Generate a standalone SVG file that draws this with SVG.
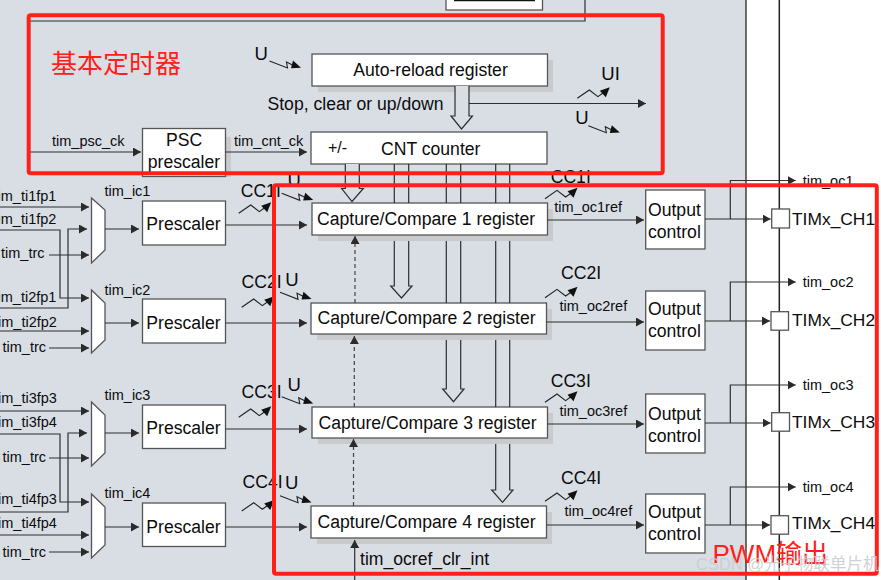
<svg xmlns="http://www.w3.org/2000/svg" width="881" height="580" viewBox="0 0 881 580">
<style>
text{font-family:"Liberation Sans",Arial,sans-serif;fill:#0c0c0c}
.s{font-size:14.5px}
.m{font-size:17.6px}
.u{font-size:18.5px}
.mid{text-anchor:middle}
.box{fill:#fff;stroke:#555;stroke-width:1.3}
.sh{fill:#c8cacd}
.mux{fill:#fff;stroke:#555;stroke-width:1.3}
.ln{fill:none;stroke:#2e2e2e;stroke-width:1.2}
.ar{fill:none;stroke:#2e2e2e;stroke-width:1.2;marker-end:url(#tip)}
.da{fill:none;stroke:#444;stroke-width:1.2;stroke-dasharray:4 3;marker-end:url(#tip)}
.bus{fill:#d9dee5;stroke:#2e2e2e;stroke-width:1.2}
.z{fill:none;stroke:#222;stroke-width:1.1}
.zh{fill:#111}
.red{fill:none;stroke:#ff2019;stroke-width:4}
.rt{fill:#ff2019}
</style>
<defs>
<marker id="tip" markerUnits="userSpaceOnUse" markerWidth="9" markerHeight="10" refX="8" refY="4.5" orient="auto"><path d="M0,0L8,4.5L0,9Z" fill="#2a2a2a"/></marker>
<g id="zapU"><path class="z" d="M0,0L12,-8.3L20.6,-1.700L26,-5.500"/><path class="zh" d="M22.500,-7.500L32.500,-11L28.500,-1Z"/></g>
<g id="zapD"><path class="z" d="M0,0L18,7L17,1L24,4.500"/><path class="zh" d="M23.500,-0.500L31.500,6.800L21.500,7.200Z"/></g>
</defs>
<rect width="881" height="580" fill="#fff"/>
<rect id="panel" width="746" height="580" fill="#d9dee5"/>
<g id="frame">
<path class="ln" d="M30,21H585V0"/>
<path d="M746,0V580" fill="none" stroke="#222" stroke-width="1.3"/>
<path d="M779.3,0V580" fill="none" stroke="#222" stroke-width="1.5"/>
</g>
<g id="top-block"><rect class="box" x="446" y="-6" width="96.500" height="16"/><path d="M454,0.500H535" stroke="#111" stroke-width="1.500"/></g>

<g id="auto-reload"><rect class="sh" x="318" y="60" width="235" height="32"/><rect class="box" x="312" y="54" width="235.500" height="32"/><text class="m mid" x="430.500" y="76">Auto-reload register</text></g>
<g id="cnt"><rect class="box" x="311" y="132" width="236" height="32"/><text class="m" x="328" y="153" style="font-size:16px">+/-</text><text class="m" x="381" y="155">CNT counter</text></g>
<g id="psc"><rect class="sh" x="148" y="137" width="83" height="40"/><rect class="box" x="142.500" y="128.500" width="83" height="48"/><text class="m mid" x="184" y="146">PSC</text><text class="m mid" x="184" y="168">prescaler</text></g>

<g id="mux1"><path class="mux" d="M91.500,198L105,210V250L91.500,263Z"/></g>
<g id="mux2"><path class="mux" d="M91.500,290L105,303V340L91.500,353Z"/></g>
<g id="mux3"><path class="mux" d="M91.500,402L105,415V453L91.500,466Z"/></g>
<g id="mux4"><path class="mux" d="M91.500,494L105,507V545L91.500,558Z"/></g>

<g id="prescaler1"><rect class="box" x="142.500" y="201" width="83" height="44"/><text class="m mid" x="183.500" y="230">Prescaler</text></g>
<g id="prescaler2"><rect class="box" x="142.500" y="299" width="83" height="44"/><text class="m mid" x="183.500" y="329">Prescaler</text></g>
<g id="prescaler3"><rect class="box" x="142.500" y="405" width="83" height="43.500"/><text class="m mid" x="183.500" y="434">Prescaler</text></g>
<g id="prescaler4"><rect class="box" x="142.500" y="503" width="83" height="43.500"/><text class="m mid" x="183.500" y="533">Prescaler</text></g>

<g id="cc1"><rect class="sh" x="318" y="209" width="235" height="32"/><rect class="box" x="312" y="203" width="235.500" height="32"/><text class="m" x="317" y="225">Capture/Compare 1 register</text></g>
<g id="cc2"><rect class="sh" x="317" y="309" width="235" height="31"/><rect class="box" x="311" y="303" width="235.500" height="31"/><text class="m" x="317.500" y="324">Capture/Compare 2 register</text></g>
<g id="cc3"><rect class="sh" x="318" y="413" width="235" height="31"/><rect class="box" x="312" y="407" width="235.500" height="31"/><text class="m" x="318.500" y="429">Capture/Compare 3 register</text></g>
<g id="cc4"><rect class="sh" x="317" y="512" width="235" height="32"/><rect class="box" x="311" y="506" width="235.500" height="32"/><text class="m" x="317.500" y="528">Capture/Compare 4 register</text></g>

<g id="out1"><rect class="box" x="645.700" y="190" width="59.300" height="59"/><text class="m" x="648" y="216">Output</text><text class="m" x="648" y="238">control</text></g>
<g id="out2"><rect class="box" x="645.700" y="291" width="59.300" height="59"/><text class="m" x="648" y="315">Output</text><text class="m" x="648" y="337">control</text></g>
<g id="out3"><rect class="box" x="645.700" y="394" width="59.300" height="59"/><text class="m" x="648" y="420">Output</text><text class="m" x="648" y="442">control</text></g>
<g id="out4"><rect class="box" x="645.700" y="494" width="59.300" height="59"/><text class="m" x="648" y="518">Output</text><text class="m" x="648" y="540">control</text></g>

<g id="connectors">
<path class="ar" d="M30,152H141"/>
<path class="ar" d="M225.500,152H307"/>
<path class="bus" d="M455,86V116H451L461.500,129L472.500,116H469V86"/>
<path class="ar" d="M469,103.500H646"/>
<path class="bus" d="M345.300,164V188.500H341.700L352,201.500L363.300,188.500H359.300V164"/>
<path class="ln" d="M394.300,164V203M408.700,164V203M446.300,164V203M460.700,164V203M495.700,164V203M509.700,164V203"/>
<path class="bus" d="M394.300,241V286H390.700L401.500,298L412,286H408.700V241"/>
<path class="ln" d="M446.300,241V303M460.700,241V303M495.700,241V303M509.700,241V303"/>
<path class="bus" d="M446.300,340V389H442.700L453.500,401.700L464,389H460.700V340"/>
<path class="ln" d="M495.700,340V407M509.700,340V407"/>
<path class="bus" d="M495.700,444V490H491.700L502.500,502.300L513,490H509.700V444"/>
<path class="ar" d="M0,207H89"/>
<path class="ar" d="M0,308H68V229H87"/>
<path class="ar" d="M0,230H60V298H89"/>
<path class="ar" d="M49,255H89"/>
<path class="ar" d="M0,331H89"/>
<path class="ar" d="M49,348H89"/>
<path class="ar" d="M0,411H89"/>
<path class="ar" d="M0,512H68V433H87"/>
<path class="ar" d="M0,434H60V502H89"/>
<path class="ar" d="M49,458H89"/>
<path class="ar" d="M0,535H89"/>
<path class="ar" d="M49,552H89"/>
<path class="ar" d="M105,229H139"/>
<path class="ar" d="M105,323H139"/>
<path class="ar" d="M105,433H139"/>
<path class="ar" d="M105,527H139"/>
<path class="ar" d="M225.500,225H307"/>
<path class="ar" d="M225.500,323H307"/>
<path class="ar" d="M225.500,429H307"/>
<path class="ar" d="M225.500,527H307"/>
<path class="da" d="M355,303V236"/>
<path class="da" d="M354.300,407V336"/>
<path class="da" d="M353.500,506V439"/>
<path class="ar" d="M354.700,580V540"/>
<path class="ar" d="M547.500,220H644"/>
<path class="ar" d="M546.500,322H644"/>
<path class="ar" d="M547.500,424H644"/>
<path class="ar" d="M546.500,525H644"/>
<path class="ar" d="M705,219H770.700"/><path class="ar" d="M730.300,219V180.500H795.700"/>
<path class="ar" d="M705,321H770"/><path class="ar" d="M730.300,321V282H795.700"/>
<path class="ar" d="M705,423H770.700"/><path class="ar" d="M730.300,423V385H795.700"/>
<path class="ar" d="M705,525H770"/><path class="ar" d="M730.300,525V487H795.700"/>
<use href="#zapD" x="269.500" y="61"/>
<use href="#zapU" x="577.300" y="98.300"/>
<use href="#zapD" x="588.300" y="125.700"/>
<use href="#zapU" x="238.700" y="213.300"/>
<use href="#zapD" x="281.700" y="193.300"/>
<use href="#zapU" x="545" y="198.700"/>
<use href="#zapU" x="241.700" y="307.300"/>
<use href="#zapD" x="280" y="292.300"/>
<use href="#zapU" x="545" y="297.700"/>
<use href="#zapU" x="238.700" y="417.300"/>
<use href="#zapD" x="281.700" y="396.700"/>
<use href="#zapU" x="545" y="402.300"/>
<use href="#zapU" x="241.700" y="511"/>
<use href="#zapD" x="280" y="495.700"/>
<use href="#zapU" x="545" y="501.300"/>
</g>

<g id="pin1"><rect class="box" x="771.700" y="209" width="17.800" height="19"/><text class="m" x="792" y="224.500" style="font-size:17.400px">TIMx_CH1</text></g>
<g id="pin2"><rect class="box" x="771" y="311.700" width="17.500" height="18.500"/><text class="m" x="792" y="326" style="font-size:17.400px">TIMx_CH2</text></g>
<g id="pin3"><rect class="box" x="771.700" y="412.700" width="17.800" height="18.500"/><text class="m" x="792" y="428" style="font-size:17.400px">TIMx_CH3</text></g>
<g id="pin4"><rect class="box" x="771" y="515.700" width="17.500" height="18.500"/><text class="m" x="792" y="528.500" style="font-size:17.400px">TIMx_CH4</text></g>

<g id="labels">
<text class="s" x="52" y="146">tim_psc_ck</text>
<text class="s" x="234" y="146">tim_cnt_ck</text>
<text class="m" x="267.500" y="110">Stop, clear or up/down</text>
<text class="u" x="254.500" y="60">U</text>
<text class="u" x="601.300" y="80">UI</text>
<text class="u" x="575.300" y="124">U</text>
<text class="s" x="104.500" y="196">tim_ic1</text>
<text class="s" x="104.500" y="295">tim_ic2</text>
<text class="s" x="104.500" y="400">tim_ic3</text>
<text class="s" x="104.500" y="498">tim_ic4</text>
<text class="s" x="-6.500" y="201">tim_ti1fp1</text>
<text class="s" x="-6.500" y="224">tim_ti1fp2</text>
<text class="s" x="1" y="258">tim_trc</text>
<text class="s" x="-6.500" y="302">tim_ti2fp1</text>
<text class="s" x="-6" y="327">tim_ti2fp2</text>
<text class="s" x="2.500" y="352">tim_trc</text>
<text class="s" x="-6" y="403">tim_ti3fp3</text>
<text class="s" x="-6" y="427">tim_ti3fp4</text>
<text class="s" x="2.500" y="462">tim_trc</text>
<text class="s" x="-6" y="504">tim_ti4fp3</text>
<text class="s" x="-6" y="528">tim_ti4fp4</text>
<text class="s" x="2.500" y="557">tim_trc</text>
<text class="m" x="240.700" y="197">CC1I</text>
<text class="u" x="287.500" y="186">U</text>
<text class="m" x="241.500" y="288">CC2I</text>
<text class="u" x="285.200" y="286">U</text>
<text class="m" x="241.500" y="398">CC3I</text>
<text class="u" x="287.500" y="391">U</text>
<text class="m" x="242.500" y="488">CC4I</text>
<text class="u" x="285" y="489">U</text>
<text class="m" x="550.700" y="183">CC1I</text>
<text class="m" x="561" y="279.300">CC2I</text>
<text class="m" x="550.700" y="386.700">CC3I</text>
<text class="m" x="561" y="484">CC4I</text>
<text class="s" x="554.300" y="212">tim_oc1ref</text>
<text class="s" x="559.500" y="311">tim_oc2ref</text>
<text class="s" x="559.500" y="416">tim_oc3ref</text>
<text class="s" x="564.500" y="516">tim_oc4ref</text>
<text class="s" x="802.700" y="186">tim_oc1</text>
<text class="s" x="802.700" y="286.700">tim_oc2</text>
<text class="s" x="802.700" y="390">tim_oc3</text>
<text class="s" x="802.700" y="492">tim_oc4</text>
<text class="m" x="360" y="565">tim_ocref_clr_int</text>
</g>

<g id="annotations">
<rect class="red" x="28.700" y="15.300" width="634" height="158" rx="2"/>
<rect class="red" x="274" y="185.300" width="602.800" height="388.500" rx="2"/>
<text class="rt" x="51" y="73" style="font-family:'Noto Sans CJK SC','Liberation Sans',sans-serif;font-size:26px">基本定时器</text>
<text class="rt" x="712.500" y="563" style="font-family:'Liberation Sans','Noto Sans CJK SC',sans-serif;font-size:26px">PWM输出</text>
<text x="696" y="570" style="font-family:'Liberation Sans','Noto Sans CJK SC',sans-serif;font-size:16.500px;fill:#c9ccd0;fill-opacity:.9">CSDN @光子物联单片机</text>
</g>
</svg>
